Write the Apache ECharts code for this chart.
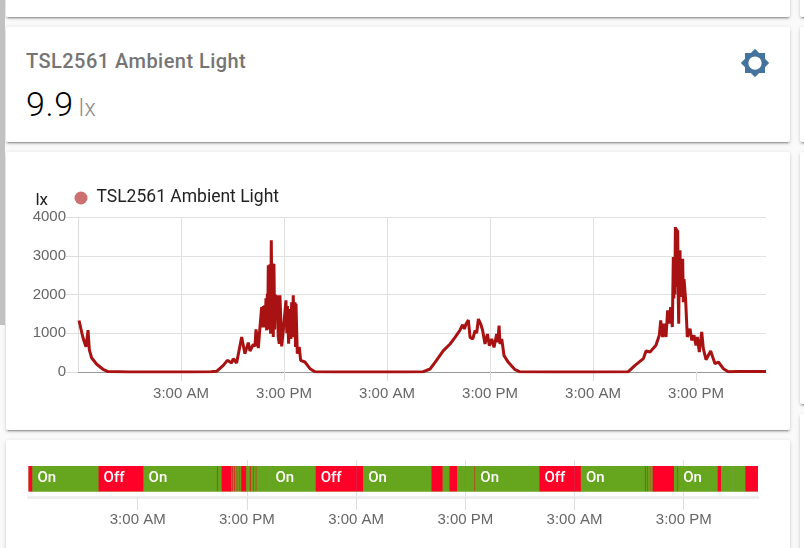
<!DOCTYPE html>
<html>
<head>
<meta charset="utf-8">
<title>TSL2561 Ambient Light</title>
<script src="https://cdn.jsdelivr.net/npm/echarts@6/dist/echarts.min.js"></script>
<style>
html, body { margin: 0; padding: 0; width: 804px; height: 548px; overflow: hidden; background: #fafafa; font-family: Roboto, sans-serif; }
.card { position: absolute; background: #fff; border-radius: 2px; box-shadow: 0 2px 2px rgba(0,0,0,.14), 0 1px 5px rgba(0,0,0,.12), 0 3px 1px -2px rgba(0,0,0,.2); }
#scroll { position: absolute; left: 0; top: 0; width: 5px; height: 325px; background: #c1c1c1; }
#name { position: absolute; left: 26px; top: 49px; font-size: 20px; font-weight: 500; color: #757575; letter-spacing: .45px; white-space: nowrap; }
#state { position: absolute; left: 26px; top: 84px; font-size: 34px; font-weight: 300; color: #000; white-space: nowrap; letter-spacing: .6px; }
#state span { font-size: 23px; color: #8a8a8a; margin-left: 5px; font-weight: 300; }
#icon { position: absolute; left: 740px; top: 48px; width: 30px; height: 30px; }
#main { position: absolute; left: 0; top: 0; width: 804px; height: 548px; }
</style>
</head>
<body>
<div class="card" style="left:6px;top:-20px;width:784px;height:37px"></div>
<div class="card" style="left:6px;top:27px;width:784px;height:115px"></div>
<div class="card" style="left:6px;top:152px;width:784px;height:278px"></div>
<div class="card" style="left:6px;top:440px;width:784px;height:130px"></div>
<div class="card" style="left:800px;top:-20px;width:40px;height:37px"></div>
<div class="card" style="left:800px;top:27px;width:40px;height:115px"></div>
<div class="card" style="left:800px;top:152px;width:40px;height:252px"></div>
<div class="card" style="left:800px;top:414px;width:40px;height:150px"></div>
<div id="scroll"></div>
<div id="name">TSL2561 Ambient Light</div>
<div id="state">9.9<span>lx</span></div>
<svg id="icon" viewBox="0 0 24 24"><path fill="#44739e" d="M20,15.31L23.31,12L20,8.69V4H15.31L12,0.69L8.69,4H4V8.69L0.69,12L4,15.31V20H8.69L12,23.31L15.31,20H20V15.31Z"/><circle cx="12" cy="12" r="5.3" fill="#fff"/></svg>
<div id="main"></div>
<script>
var seriesName = 'TSL2561 Ambient Light';
var yTicks = [0, 1000, 2000, 3000, 4000];
var hourTicks = [12, 24, 36, 48, 60, 72];

// hours since the left edge of the chart (3 PM)
var lightHours = [
    0.12, 0.35, 0.55, 0.70, 0.93, 1.17, 1.32, 1.60, 2.18, 2.91, 3.50, 6.0, 10.0, 13.0, 15.5,
    16.15, 16.93, 17.40, 17.90, 18.09, 18.48, 19.07, 19.45, 19.84, 20.04, 20.42, 20.62, 20.74, 21.01,
    21.20, 21.40, 21.48, 21.59, 21.67, 21.75, 21.82, 21.90, 21.98, 22.06, 22.11, 22.17, 22.22, 22.27, 22.32, 22.37,
    22.44, 22.52, 22.60, 22.68, 22.75, 22.83, 22.91, 22.99,
    23.10, 23.22, 23.33, 23.45, 23.53, 23.73, 23.92, 24.23, 24.33, 24.40, 24.54, 24.62, 24.70, 24.80, 24.89, 24.98,
    25.08, 25.18, 25.28, 25.34, 25.40,
    25.55, 25.78, 25.94, 26.44, 27.03, 27.61, 30.0, 34.0, 38.0,
    40.24, 41.02, 41.60, 42.57, 43.35, 43.93, 44.51, 44.82, 45.02, 45.21, 45.48, 45.68, 45.99, 46.26,
    46.45, 46.65, 46.92, 47.15, 47.42, 47.70, 47.93, 48.20, 48.47, 48.78, 48.90, 49.06, 49.17, 49.37,
    49.64, 50.14, 50.92, 51.50, 55.0, 60.0,
    64.12, 64.90, 65.87, 66.18, 66.65, 67.34, 67.73, 67.89, 68.12, 68.28, 68.51, 68.70, 68.90, 69.05, 69.25,
    69.36, 69.42, 69.48, 69.54, 69.60, 69.68, 69.75, 69.81, 69.87, 69.93, 69.99, 70.07, 70.14, 70.22, 70.30, 70.37,
    70.45, 70.53, 70.61, 70.80, 70.99, 71.31, 71.50, 71.77,
    72.00, 72.16, 72.39, 72.67, 72.86, 73.17, 73.71, 74.22, 74.61, 75.19, 75.77, 77.0, 80.16
];
var lightValues = [
    1330, 1280, 910, 800, 650, 1080, 570, 360, 200, 70, 10, 3, 2, 2, 4,
    17, 172, 301, 232, 344, 232, 903, 473, 757, 542, 714, 662, 1101, 619,
    1161, 1677, 1150, 1700, 1204, 1720, 1150, 1900, 1075, 2021, 1300, 2752, 1250, 2700, 1100, 2780,
    989, 3397, 1400, 2800, 903, 2795, 1100, 2000,
    1500, 1978, 900, 731, 1978, 662, 1075, 1849, 1000, 1700, 731, 1500, 1634, 850, 1800, 900,
    1978, 1100, 1800, 645, 1763,
    473, 645, 301, 258, 86, 5, 3, 2, 3,
    9, 77, 249, 550, 722, 894, 1083, 1221, 1109, 1238, 1341, 894, 851, 1066,
    1006, 1367, 1238, 1066, 722, 980, 679, 851, 636, 980, 765, 1195, 722, 851,
    421, 249, 60, 5, 3, 2,
    9, 172, 344, 542, 516, 688, 946, 1333, 903, 1247, 903, 1591, 1247, 1677, 1161,
    2967, 1900, 2700, 2000, 3741, 2300, 3700, 2193, 3655, 2000, 1247, 3000, 3139, 2000, 2900, 1935,
    2924, 1800, 2400, 1849, 903, 1118, 817, 946,
    688, 903, 516, 1032, 602, 318, 542, 215, 258, 86, 5, 12, 10
];

// switch history: each state runs until the next start
var stateStarts = [
    0, 0.44, 7.70, 12.65, 20.71, 20.82, 21.22, 22.25, 22.32, 22.47, 22.58, 22.69, 22.80, 22.87, 22.98, 23.06,
    23.17, 23.28, 23.37, 23.94, 24.30, 24.49, 24.66, 24.77, 24.96, 25.07, 25.15, 26.50, 26.58, 31.56, 36.78,
    44.28, 45.52, 46.26, 47.10, 48.99, 49.10, 56.14, 60.70, 67.74, 67.85, 67.99, 68.10, 68.29, 68.36, 68.58,
    70.93, 71.29, 71.40, 75.73, 76.09, 77.38, 77.46, 78.77
];
var stateNames = [
    'Off', 'On', 'Off', 'On', 'Off', 'On', 'Off', 'On', 'Off', 'On', 'Off', 'On', 'Off', 'On', 'Off', 'On',
    'Off', 'On', 'Off', 'On', 'Off', 'On', 'Off', 'On', 'Off', 'On', 'On', 'unavailable', 'On', 'Off', 'On',
    'Off', 'On', 'Off', 'On', 'Off', 'On', 'Off', 'On', 'Off', 'On', 'Off', 'On', 'Off', 'On', 'Off',
    'On', 'Off', 'On', 'Off', 'On', 'unavailable', 'On', 'Off'
];
var endHour = 80.16;

var stateColors = { On: '#66a61e', Off: '#ff0029', unavailable: '#7d9468' };

function hourLabel(v) {
    return v % 24 === 12 ? '3:00 AM' : '3:00 PM';
}

var stateData = stateStarts.map(function (s, i) {
    return [s, i + 1 < stateStarts.length ? stateStarts[i + 1] : endHour];
});

function renderState(params, api) {
    var a = api.coord([api.value(0), 0]);
    var b = api.coord([api.value(1), 0]);
    var w = b[0] - a[0];
    var name = stateNames[params.dataIndex];
    var kids = [];
    // green base so thin stripes blend into it, no white seams
    if (params.dataIndex === 0) {
        var end = api.coord([endHour, 0]);
        kids.push({
            type: 'rect',
            shape: { x: a[0], y: a[1] - 31, width: end[0] - a[0], height: 25.5 },
            style: { fill: stateColors.On }
        });
    }
    kids.push({
        type: 'rect',
        shape: { x: a[0], y: a[1] - 31, width: w, height: 25.5 },
        style: { fill: stateColors[name], opacity: (name === 'Off' && w < 2) ? 0.65 : 1 }
    });
    if (w > 30) {
        kids.push({
            type: 'text',
            style: {
                text: name, x: a[0] + 5, y: a[1] - 19, verticalAlign: 'middle',
                fill: '#fff', font: '500 15px Roboto'
            }
        });
    }
    return { type: 'group', children: kids };
}

var myChart = echarts.init(document.getElementById('main'));
myChart.setOption({
    animation: false,
    textStyle: { fontFamily: 'Liberation Sans' },
    legend: {
        data: [seriesName],
        left: 69.5, top: 184,
        icon: 'circle',
        itemWidth: 13, itemHeight: 13,
        itemStyle: { color: '#cc7070' },
        textStyle: { fontFamily: 'Roboto', fontSize: 17.5, color: '#212121', padding: [0, 0, 0, 4] }
    },
    grid: [
        { left: 78, right: 38, top: 217, height: 155 },
        { left: 28.5, right: 46, top: 460, height: 37 }
    ],
    xAxis: [{
        type: 'value', gridIndex: 0, min: 0, max: endHour, interval: 12,
        axisLine: { lineStyle: { color: '#999' } },
        axisTick: { show: true, length: 9, customValues: hourTicks, lineStyle: { color: '#ddd' } },
        axisLabel: { formatter: hourLabel, customValues: hourTicks, color: '#666', fontSize: 15, margin: 14 },
        splitLine: { show: true, showMaxLine: false, lineStyle: { color: '#e0e0e0' } }
    }, {
        type: 'value', gridIndex: 1, min: 0, max: endHour, interval: 12, z: 5,
        axisLine: { lineStyle: { color: '#eeeeee', width: 3 } },
        axisTick: { show: true, length: 13, customValues: hourTicks, lineStyle: { color: '#ddd' } },
        axisLabel: { formatter: hourLabel, customValues: hourTicks, color: '#666', fontSize: 15, margin: 15 },
        splitLine: { show: true, showMinLine: false, lineStyle: { color: 'rgba(120,120,120,0.22)' } }
    }],
    yAxis: [{
        type: 'value', gridIndex: 0, min: yTicks[0], max: yTicks[4], interval: 1000,
        name: 'lx', nameGap: 6,
        nameTextStyle: { fontFamily: 'Roboto', fontSize: 17, color: '#212121', align: 'right', padding: [0, 30, 0, 0] },
        axisLine: { show: true, lineStyle: { color: '#ddd' } },
        axisTick: { show: true, length: 12, lineStyle: { color: '#ddd' } },
        axisLabel: { formatter: function (v) { return String(v); }, color: '#666', fontSize: 15, margin: 12 },
        splitLine: { show: true, lineStyle: { color: '#e0e0e0' } }
    }, {
        type: 'value', gridIndex: 1, min: 0, max: 1, show: false
    }],
    series: [{
        name: seriesName,
        type: 'line',
        xAxisIndex: 0, yAxisIndex: 0,
        showSymbol: false,
        lineStyle: { color: '#a91212', width: 3 },
        itemStyle: { color: '#a91212' },
        data: lightHours.map(function (h, i) { return [h, lightValues[i]]; })
    }, {
        type: 'custom',
        xAxisIndex: 1, yAxisIndex: 1,
        z: 1,
        renderItem: renderState,
        encode: { x: [0, 1] },
        data: stateData
    }]
});
</script>
</body>
</html>
